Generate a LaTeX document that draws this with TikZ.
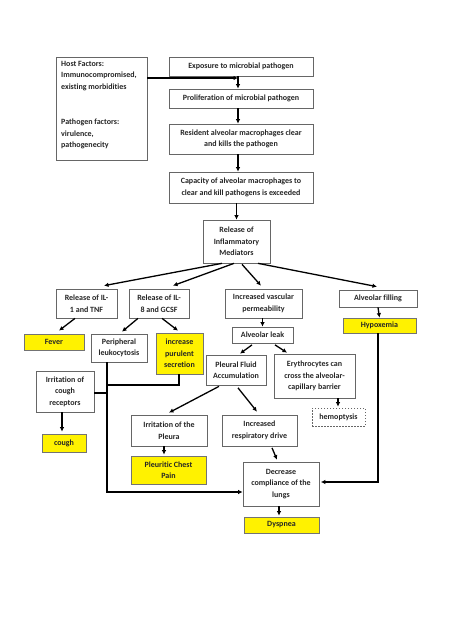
\documentclass[tikz,border=0pt]{standalone}
\usepackage{fontspec}
\setmainfont{Carlito}[BoldFont={Carlito Bold}, Ligatures=NoCommon]
\usetikzlibrary{arrows.meta,calc}
\tikzset{
  box/.style={draw=black!60, line width=0.7pt, fill=white, align=center, inner sep=1pt,
    font=\fontsize{8}{11.5}\selectfont\bfseries, text=black!85},
  ybox/.style={box, fill=yellow, draw=black!55},
  dbox/.style={box, dashed, dash pattern=on 1.5pt off 1.5pt},
  arr/.style={line width=1.3pt, -{Latex[length=4.5pt,width=4.5pt]}},
  ln/.style={line width=1.3pt}
}
\begin{document}
\begin{tikzpicture}[x=1pt,y=-1pt]
\useasboundingbox (0,0) rectangle (474,632);
% boxes
\node[box, minimum width=91, minimum height=103] (host) at (101.5,108.5) {};
\node[anchor=north west, align=left, inner sep=0pt, font=\fontsize{8}{11.5}\selectfont\bfseries, text=black!85] (hosttext) at (61,61)
 {Host Factors:\\Immunocompromised,\\existing morbidities\\[24pt]Pathogen factors:\\virulence,\\pathogenecity};
\node[box, minimum width=144, minimum height=19] (expo) at (241,66.5) {Exposure to microbial pathogen};
\node[box, minimum width=144, minimum height=19] (prolif) at (241,98.5) {Proliferation of microbial pathogen};
\node[box, minimum width=144, minimum height=30] (resid) at (241,139) {Resident alveolar macrophages clear\\and kills the pathogen};
\node[box, minimum width=144, minimum height=31] (capac) at (241,187.5) {Capacity of alveolar macrophages to\\clear and kill pathogens is exceeded};
\node[box, minimum width=67, minimum height=43] (inflam) at (236.5,241.5) {Release of\\Inflammatory\\Mediators};
\node[box, minimum width=61, minimum height=29] (ilone) at (86.5,303.5) {Release of IL-\\1 and TNF};
\node[box, minimum width=60, minimum height=29] (ileight) at (159,303.5) {Release of IL-\\8 and GCSF};
\node[box, minimum width=77, minimum height=29] (ivp) at (263.5,303.5) {Increased vascular\\permeability};
\node[box, minimum width=78, minimum height=17] (alvfill) at (378,298.5) {Alveolar filling};
\node[ybox, minimum width=73, minimum height=15] (hypox) at (379.5,325.5) {Hypoxemia};
\node[ybox, minimum width=60, minimum height=16] (fever) at (54,342) {Fever};
\node[box, minimum width=56, minimum height=28] (periph) at (119,348) {Peripheral\\leukocytosis};
\node[ybox, minimum width=47, minimum height=41] (purul) at (179.5,353.5) {increase\\purulent\\secretion};
\node[box, minimum width=61, minimum height=16] (alvleak) at (262.5,335) {Alveolar leak};
\node[box, minimum width=60, minimum height=30] (pleural) at (236,370) {Pleural Fluid\\Accumulation};
\node[box, minimum width=81, minimum height=44] (eryth) at (314.5,376) {Erythrocytes can\\cross the alveolar-\\capillary barrier};
\node[dbox, minimum width=53, minimum height=18] (hemo) at (338.5,417) {hemoptysis};
\node[box, minimum width=58, minimum height=41] (coughrec) at (65,391.5) {Irritation of\\cough\\receptors};
\node[ybox, minimum width=44, minimum height=18] (cough) at (64,443) {cough};
\node[box, minimum width=76, minimum height=31] (irrpl) at (169,430.5) {Irritation of the\\Pleura};
\node[ybox, minimum width=75, minimum height=28] (chest) at (168.5,470) {Pleuritic Chest\\Pain};
\node[box, minimum width=75, minimum height=31] (resp) at (259.5,430.5) {Increased\\respiratory drive};
\node[box, minimum width=76, minimum height=44] (compl) at (281,484) {Decrease\\compliance of the\\lungs};
\node[ybox, minimum width=75, minimum height=16] (dysp) at (281.5,525) {Dyspnea};
% junction coordinates
\coordinate (spine) at (238,78);
\coordinate (spinetwo) at (236.5,0);
\coordinate (lv) at (107,492);
\coordinate (pj) at (179,385);
\coordinate (hj) at (378,482);
% connectors top
\draw[arr] (host.east |- spine) -- (spine);
\draw[arr] (expo.south -| spine) -- (prolif.north -| spine);
\draw[arr] (prolif.south -| spine) -- (resid.north -| spine);
\draw[arr] (resid.south -| spine) -- (capac.north -| spine);
\draw[arr] (capac.south -| spinetwo) -- (inflam.north -| spinetwo);
% inflammatory fan
\draw[arr] ($(inflam.south)+(-14.5,0)$) -- ($(ilone.north)+(17.5,-3)$);
\draw[arr] ($(inflam.south)+(-2.5,0)$) -- ($(ileight.north)+(14,-3)$);
\draw[arr] ($(inflam.south)+(5.5,1)$) -- ($(ivp.north)+(-2.5,-3)$);
\draw[arr] ($(inflam.south)+(21.5,0)$) -- ($(alvfill.north)+(-1,-3)$);
% second level
\draw[arr] ($(ilone.south)+(-11.5,0)$) -- ($(fever.north)+(5,-3)$);
\draw[arr] ($(ileight.south)+(-21,0)$) -- ($(periph.north)+(3,-2)$);
\draw[arr] ($(ileight.south)+(3,0)$) -- ($(purul.north)+(-1.5,-2)$);
\draw[arr] (ivp.south -| alvleak.north) -- (alvleak.north);
\draw[arr] (alvfill.south) -- (hypox.north);
\draw[arr] ($(alvleak.south)+(-10.5,1.5)$) -- ($(pleural.north)+(4,-1)$);
\draw[arr] ($(alvleak.south)+(12.5,1.5)$) -- ($(eryth.north)+(-27.5,-1)$);
\draw[arr] ($(eryth.south)+(23.5,0)$) -- ($(hemo.north)+(-0.5,-1)$);
\draw[arr] ($(pleural.south)+(-17,1)$) -- ($(irrpl.north)+(0,-2)$);
\draw[arr] ($(pleural.south)+(2,2.5)$) -- ($(resp.north)+(-2.5,-3)$);
\draw[arr] ($(irrpl.south)+(-5,0)$) -- ($(chest.north)+(-4.5,-1)$);
\draw[arr] ($(coughrec.south)+(-3,0)$) -- ($(cough.north)+(-2,-2)$);
\draw[arr] ($(resp.south)+(12.5,1.5)$) -- ($(compl.north)+(-4,-2)$);
\draw[arr] ($(compl.south)+(-2,0)$) -- ($(dysp.north)+(-2.5,-1)$);
% long connectors
\draw[arr] (hypox.south -| hj) -- (hj) -- ($(compl.east |- hj)+(1.5,0)$);
\draw[arr] (periph.south -| lv) -- (lv) -- (compl.west |- lv);
\draw[ln] (purul.south -| pj) -- (pj) -- (pj -| lv);
\draw[ln] (coughrec.east |- 0,393) -- (lv |- 0,393);
\end{tikzpicture}
\end{document}
